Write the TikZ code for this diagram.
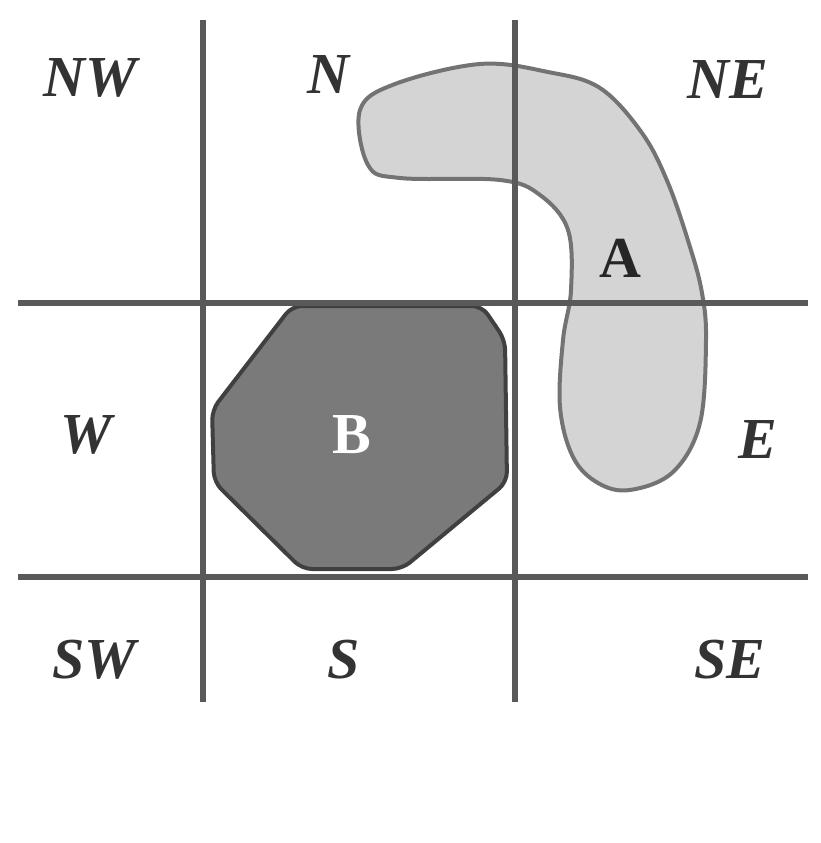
\documentclass[tikz,border=0pt]{standalone}
\usepackage{fontspec}
\setmainfont{Liberation Serif}
\begin{document}
\begin{tikzpicture}[x=1pt,y=-1pt,
  gridline/.style={line width=6pt,draw=black!65},
  lab/.style={font=\fontsize{58}{60}\selectfont\bfseries\itshape,text=black!80},
  regA/.style={fill=black!17,draw=black!55,line width=4pt},
  regB/.style={fill=black!52,draw=black!75,line width=4pt}]
\useasboundingbox (0,0) rectangle (820,843);
% region A
\draw[regA] plot[smooth cycle,tension=0.6] coordinates{
 (360,110) (395,84) (480,64) (548,72) (600,88) (642,133) (668,183) (690,247) (702,293) (706,340)
 (700,423) (673,472) (630,490) (598,483) (573,457) (560,407) (563,340) (571,290) (568,230)
 (540,195) (500,180) (400,178) (368,165)};
% region B
\draw[regB,rounded corners=10pt] (292,306) -- (482,306) -- (505,340) -- (507,482) -- (402,569)
 -- (302,569) -- (214,482) -- (212,410) -- cycle;
% grid
\coordinate (v1t) at (203,20); \coordinate (v1b) at (203,702);
\coordinate (v2t) at (515,20); \coordinate (v2b) at (515,702);
\coordinate (h1l) at (18,303); \coordinate (h1r) at (808,303);
\coordinate (h2l) at (18,577); \coordinate (h2r) at (808,577);
\draw[gridline] (v1t) -- (v1b);
\draw[gridline] (v2t) -- (v2b);
\draw[gridline] (h1l) -- (h1r);
\draw[gridline] (h2l) -- (h2r);
% labels
\node[lab] (nw) at (90,78) {NW};
\node[lab] (n) at (328,75) {N};
\node[lab] (ne) at (728,80) {NE};
\node[lab] (w) at (86,435) {W};
\node[lab] (e) at (758,440) {E};
\node[lab] (sw) at (94,660) {SW};
\node[lab] (s) at (344,660) {S};
\node[lab] (se) at (730,660) {SE};
\node[font=\fontsize{58}{60}\selectfont\bfseries,text=black!85] (a) at (620,258) {A};
\node[font=\fontsize{58}{60}\selectfont\bfseries,text=white] (b) at (352,435) {B};
\end{tikzpicture}
\end{document}
